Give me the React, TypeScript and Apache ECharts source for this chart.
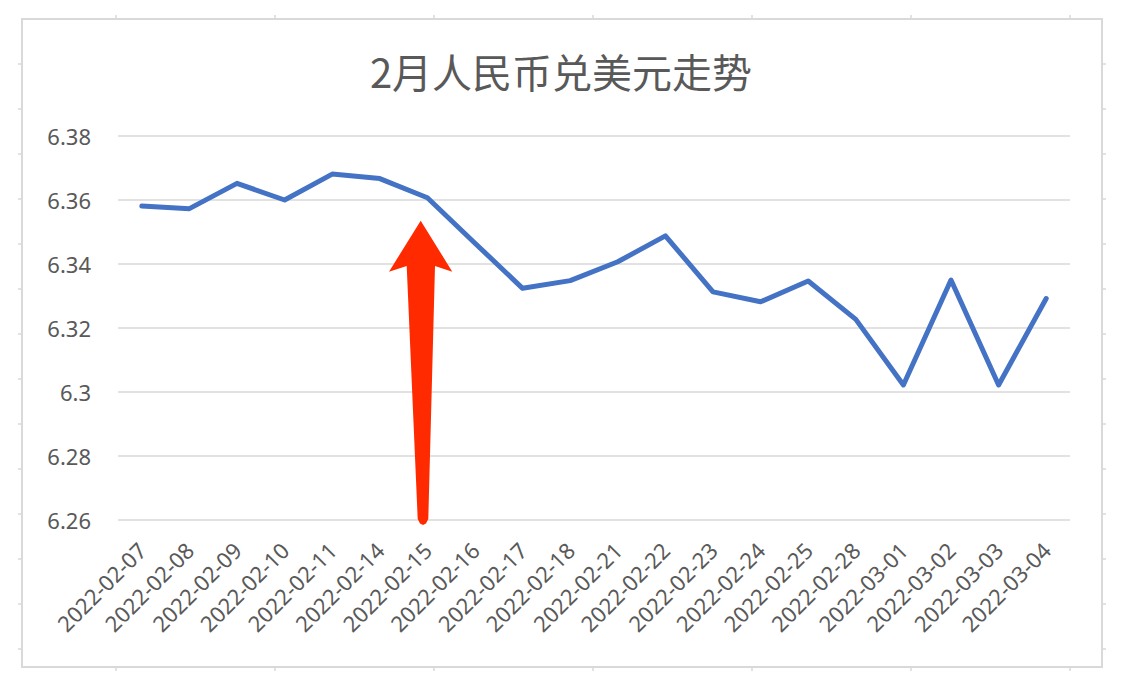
import * as echarts from "echarts";
import React, { useEffect, useRef } from "react";

const title = "2月人民币兑美元走势";

const dates = [
  "2022-02-07", "2022-02-08", "2022-02-09", "2022-02-10", "2022-02-11",
  "2022-02-14", "2022-02-15", "2022-02-16", "2022-02-17", "2022-02-18",
  "2022-02-21", "2022-02-22", "2022-02-23", "2022-02-24", "2022-02-25",
  "2022-02-28", "2022-03-01", "2022-03-02", "2022-03-03", "2022-03-04",
];

const rates = [
  6.3581, 6.3573, 6.3652, 6.36, 6.3681,
  6.3667, 6.3607, 6.3465, 6.3324, 6.3348,
  6.3407, 6.3488, 6.3313, 6.3282, 6.3347,
  6.3227, 6.3022, 6.335, 6.3022, 6.3292,
];

const yMin = 6.26;
const yMax = 6.38;
const yStep = 0.02;

const frameColor = "#d9d9d9";
const textColor = "#595959";

// little marks around the chart frame (Excel sheet grid)
const frameTicks = () => {
  const items: any[] = [];
  for (let k = 0; k < 7; k++) {
    const x = 116 + 159 * k;
    items.push({ type: "line", shape: { x1: x, y1: 15, x2: x, y2: 19 }, style: { stroke: frameColor, lineWidth: 1.5 } });
    items.push({ type: "line", shape: { x1: x, y1: 667, x2: x, y2: 671 }, style: { stroke: frameColor, lineWidth: 1.5 } });
  }
  for (let k = 0; k < 14; k++) {
    const y = 64 + 45 * k;
    items.push({ type: "line", shape: { x1: 18, y1: y, x2: 22, y2: y }, style: { stroke: frameColor, lineWidth: 1.5 } });
    items.push({ type: "line", shape: { x1: 1102, y1: y, x2: 1106, y2: y }, style: { stroke: frameColor, lineWidth: 1.5 } });
  }
  return items;
};

const App: React.FC = () => {
  const chartRef = useRef<HTMLDivElement | null>(null);

  useEffect(() => {
    if (!chartRef.current) return;
    const chart = echarts.init(chartRef.current, undefined, { renderer: "svg" });

    const option: echarts.EChartsOption = {
      animation: false,
      backgroundColor: "#ffffff",
      title: {
        text: title,
        left: "center",
        top: 46,
        textStyle: {
          fontFamily: "Noto Sans CJK SC",
          fontSize: 40,
          fontWeight: "normal",
          color: textColor,
        },
      },
      grid: {
        left: 118,
        right: 52,
        top: 136,
        bottom: 160,
      },
      xAxis: {
        type: "category",
        data: dates,
        axisLine: { show: false },
        axisTick: { show: false },
        axisLabel: {
          interval: 0,
          rotate: 45,
          margin: 26,
          fontSize: 22,
          fontFamily: "Noto Sans",
          color: textColor,
        },
      },
      yAxis: {
        type: "value",
        min: yMin,
        max: yMax,
        interval: yStep,
        axisLine: { show: false },
        axisTick: { show: false },
        axisLabel: {
          margin: 27,
          fontSize: 22,
          fontFamily: "Noto Sans",
          color: textColor,
          formatter: (v: number) => String(Number(v.toFixed(2))),
        },
        splitLine: { lineStyle: { color: frameColor, width: 1.5 } },
      },
      series: [
        {
          type: "line",
          data: rates,
          symbol: "none",
          lineStyle: { color: "#4472C4", width: 5, cap: "round", join: "round" },
          itemStyle: { color: "#4472C4" },
          z: 3,
        },
      ],
      graphic: [
        {
          type: "rect",
          shape: { x: 22, y: 19, width: 1080, height: 648 },
          style: { fill: "none", stroke: frameColor, lineWidth: 2 },
          z: 1,
        },
        ...frameTicks(),
        {
          type: "polygon",
          shape: {
            points: [
              [420.7, 220.7],
              [452.3, 271.7],
              [435, 266],
              [428.3, 519],
              [426, 523.5],
              [423, 525],
              [420, 523.5],
              [417.7, 519],
              [406.7, 266],
              [389, 271.7],
            ],
          },
          style: { fill: "#ff2a00" },
          z: 10,
        },
      ],
    };

    chart.setOption(option);
    return () => {
      chart.dispose();
    };
  }, []);

  return (
    <div
      ref={chartRef}
      style={{ position: "fixed", left: 0, top: 0, width: "1122px", height: "680px", background: "#fff" }}
    />
  );
};

export default App;
